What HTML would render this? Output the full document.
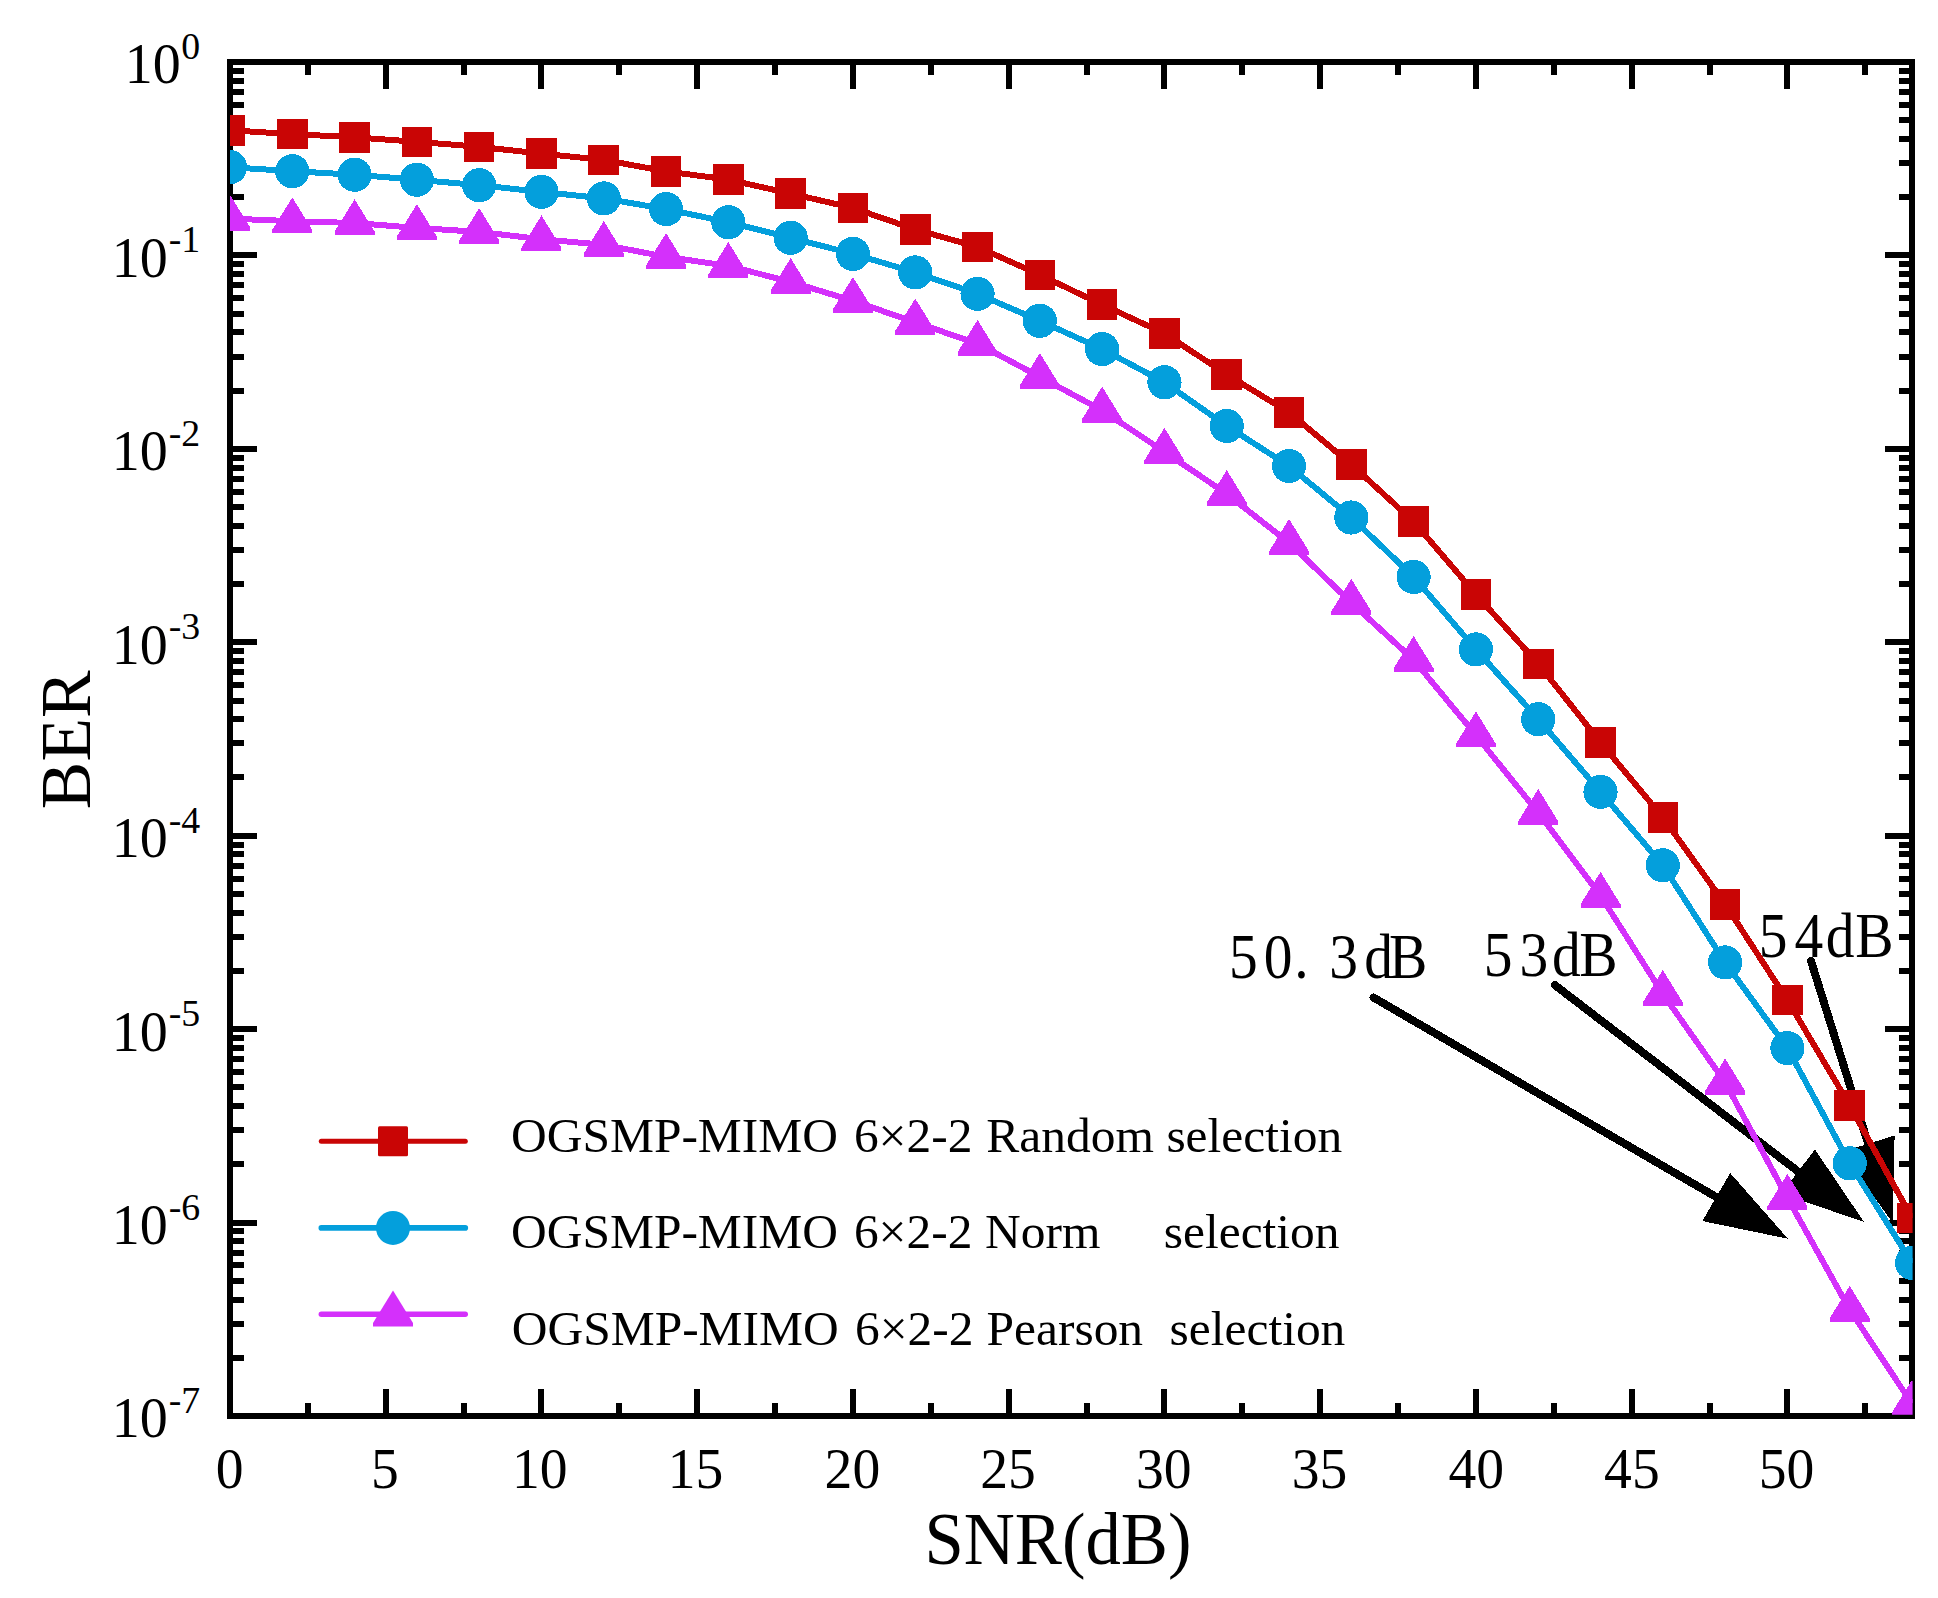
<!DOCTYPE html>
<html lang="en"><head><meta charset="utf-8"><title>BER versus SNR</title>
<style>html,body{margin:0;padding:0;background:#fff}svg{display:block}text{font-family:'Liberation Serif', serif;fill:#000}</style></head><body>
<svg width="1938" height="1598" viewBox="0 0 1938 1598">
<rect x="0" y="0" width="1938" height="1598" fill="#ffffff"/>
<defs><clipPath id="plot"><rect x="230" y="60" width="1682.6" height="1354.8"/></clipPath></defs>
<g id="axes" shape-rendering="crispEdges" stroke="#000" stroke-width="6" fill="none" stroke-linecap="butt">
<rect x="230" y="62" width="1682" height="1354"/>
<path d="M307.87 1416v-13M307.87 62v13M385.74 1416v-27M385.74 62v27M463.61 1416v-13M463.61 62v13M541.48 1416v-27M541.48 62v27M619.35 1416v-13M619.35 62v13M697.22 1416v-27M697.22 62v27M775.09 1416v-13M775.09 62v13M852.96 1416v-27M852.96 62v27M930.83 1416v-13M930.83 62v13M1008.7 1416v-27M1008.7 62v27M1086.57 1416v-13M1086.57 62v13M1164.44 1416v-27M1164.44 62v27M1242.31 1416v-13M1242.31 62v13M1320.19 1416v-27M1320.19 62v27M1398.06 1416v-13M1398.06 62v13M1475.93 1416v-27M1475.93 62v27M1553.8 1416v-13M1553.8 62v13M1631.67 1416v-27M1631.67 62v27M1709.54 1416v-13M1709.54 62v13M1787.41 1416v-27M1787.41 62v27M1865.28 1416v-13M1865.28 62v13M230 197.2h14M1912 197.2h-13M230 163.14h14M1912 163.14h-13M230 138.97h14M1912 138.97h-13M230 120.23h14M1912 120.23h-13M230 104.91h14M1912 104.91h-13M230 91.96h14M1912 91.96h-13M230 80.75h14M1912 80.75h-13M230 70.85h14M1912 70.85h-13M230 255.43h27M1912 255.43h-27M230 390.63h14M1912 390.63h-13M230 356.57h14M1912 356.57h-13M230 332.4h14M1912 332.4h-13M230 313.66h14M1912 313.66h-13M230 298.34h14M1912 298.34h-13M230 285.39h14M1912 285.39h-13M230 274.17h14M1912 274.17h-13M230 264.28h14M1912 264.28h-13M230 448.86h27M1912 448.86h-27M230 584.06h14M1912 584.06h-13M230 550h14M1912 550h-13M230 525.83h14M1912 525.83h-13M230 507.08h14M1912 507.08h-13M230 491.77h14M1912 491.77h-13M230 478.82h14M1912 478.82h-13M230 467.6h14M1912 467.6h-13M230 457.71h14M1912 457.71h-13M230 642.29h27M1912 642.29h-27M230 777.49h14M1912 777.49h-13M230 743.43h14M1912 743.43h-13M230 719.26h14M1912 719.26h-13M230 700.51h14M1912 700.51h-13M230 685.2h14M1912 685.2h-13M230 672.25h14M1912 672.25h-13M230 661.03h14M1912 661.03h-13M230 651.14h14M1912 651.14h-13M230 835.71h27M1912 835.71h-27M230 970.92h14M1912 970.92h-13M230 936.85h14M1912 936.85h-13M230 912.69h14M1912 912.69h-13M230 893.94h14M1912 893.94h-13M230 878.63h14M1912 878.63h-13M230 865.68h14M1912 865.68h-13M230 854.46h14M1912 854.46h-13M230 844.57h14M1912 844.57h-13M230 1029.14h27M1912 1029.14h-27M230 1164.34h14M1912 1164.34h-13M230 1130.28h14M1912 1130.28h-13M230 1106.12h14M1912 1106.12h-13M230 1087.37h14M1912 1087.37h-13M230 1072.05h14M1912 1072.05h-13M230 1059.11h14M1912 1059.11h-13M230 1047.89h14M1912 1047.89h-13M230 1037.99h14M1912 1037.99h-13M230 1222.57h27M1912 1222.57h-27M230 1357.77h14M1912 1357.77h-13M230 1323.71h14M1912 1323.71h-13M230 1299.54h14M1912 1299.54h-13M230 1280.8h14M1912 1280.8h-13M230 1265.48h14M1912 1265.48h-13M230 1252.53h14M1912 1252.53h-13M230 1241.32h14M1912 1241.32h-13M230 1231.42h14M1912 1231.42h-13"/>
</g>
<g id="ylabels">
<text transform="translate(0 83.4) scale(0.97 1)" font-size="57.8"><tspan x="128.62">10</tspan><tspan x="186.77" dy="-24.4" font-size="39">0</tspan></text>
<text transform="translate(0 276.83) scale(0.97 1)" font-size="57.8"><tspan x="115.27">10</tspan><tspan x="173.88" dy="-24.4" font-size="39">-1</tspan></text>
<text transform="translate(0 470.26) scale(0.97 1)" font-size="57.8"><tspan x="115.27">10</tspan><tspan x="173.88" dy="-24.4" font-size="39">-2</tspan></text>
<text transform="translate(0 663.69) scale(0.97 1)" font-size="57.8"><tspan x="115.27">10</tspan><tspan x="173.88" dy="-24.4" font-size="39">-3</tspan></text>
<text transform="translate(0 857.11) scale(0.97 1)" font-size="57.8"><tspan x="115.27">10</tspan><tspan x="173.88" dy="-24.4" font-size="39">-4</tspan></text>
<text transform="translate(0 1050.54) scale(0.97 1)" font-size="57.8"><tspan x="115.27">10</tspan><tspan x="173.88" dy="-24.4" font-size="39">-5</tspan></text>
<text transform="translate(0 1243.97) scale(0.97 1)" font-size="57.8"><tspan x="115.27">10</tspan><tspan x="173.88" dy="-24.4" font-size="39">-6</tspan></text>
<text transform="translate(0 1437.4) scale(0.97 1)" font-size="57.8"><tspan x="115.27">10</tspan><tspan x="173.88" dy="-24.4" font-size="39">-7</tspan></text>
</g>
<g id="xlabels">
<text transform="translate(215.8 1488.3) scale(0.9620 1)" font-size="57.8">0</text>
<text transform="translate(370.98 1488.3) scale(0.9620 1)" font-size="57.8">5</text>
<text transform="translate(511.99 1488.3) scale(0.9620 1)" font-size="57.8">10</text>
<text transform="translate(667.73 1488.3) scale(0.9620 1)" font-size="57.8">15</text>
<text transform="translate(824.58 1488.3) scale(0.9620 1)" font-size="57.8">20</text>
<text transform="translate(980.32 1488.3) scale(0.9620 1)" font-size="57.8">25</text>
<text transform="translate(1136.06 1488.3) scale(0.9620 1)" font-size="57.8">30</text>
<text transform="translate(1291.81 1488.3) scale(0.9620 1)" font-size="57.8">35</text>
<text transform="translate(1448.38 1488.3) scale(0.9620 1)" font-size="57.8">40</text>
<text transform="translate(1604.12 1488.3) scale(0.9620 1)" font-size="57.8">45</text>
<text transform="translate(1758.75 1488.3) scale(0.9620 1)" font-size="57.8">50</text>
</g>
<text transform="translate(924.46 1564.3) scale(0.9653 1)" font-size="73.2">SNR(dB)</text>
<g transform="translate(90 739) rotate(-90)"><text transform="translate(-70.13 0) scale(0.9899 1)" font-size="72">BER</text></g>
<g id="arrows" shape-rendering="crispEdges">
<line x1="1373.5" y1="997.5" x2="1718" y2="1198.05" stroke="#000" stroke-width="8" stroke-linecap="round"/>
<polygon points="1788,1238.8 1702.31,1221.02 1730.23,1173.06" fill="#000"/>
<line x1="1555" y1="985.2" x2="1799.71" y2="1172.73" stroke="#000" stroke-width="8" stroke-linecap="round"/>
<polygon points="1864,1222 1781.24,1193.54 1815,1149.49" fill="#000"/>
<line x1="1811" y1="961" x2="1868.73" y2="1145.69" stroke="#000" stroke-width="8" stroke-linecap="round"/>
<polygon points="1892.9,1223 1841.65,1152.06 1894.62,1135.5" fill="#000"/>
</g>
<g id="series" clip-path="url(#plot)" shape-rendering="crispEdges">
<polyline points="230,218.6 292.3,221.2 354.59,223 416.89,227.9 479.19,231.9 541.48,239.2 603.78,244.8 666.07,256.8 728.37,265.9 790.67,281.9 852.96,300.8 915.26,322.3 977.56,343.7 1039.85,376.8 1102.15,410.4 1164.44,451.7 1226.74,493.9 1289.04,542.8 1351.33,602.7 1413.63,659.8 1475.93,735.2 1538.22,812.7 1600.52,895.7 1662.81,993.8 1725.11,1082.3 1787.41,1197.8 1849.7,1309.7 1912,1403.8" fill="none" stroke="#d430fb" stroke-width="6" stroke-linejoin="round"/>
<path d="M230 194.8L250 227.2V230.8H210V227.2ZM292.3 197.4L312.3 229.8V233.4H272.3V229.8ZM354.59 199.2L374.59 231.6V235.2H334.59V231.6ZM416.89 204.1L436.89 236.5V240.1H396.89V236.5ZM479.19 208.1L499.19 240.5V244.1H459.19V240.5ZM541.48 215.4L561.48 247.8V251.4H521.48V247.8ZM603.78 221L623.78 253.4V257H583.78V253.4ZM666.07 233L686.07 265.4V269H646.07V265.4ZM728.37 242.1L748.37 274.5V278.1H708.37V274.5ZM790.67 258.1L810.67 290.5V294.1H770.67V290.5ZM852.96 277L872.96 309.4V313H832.96V309.4ZM915.26 298.5L935.26 330.9V334.5H895.26V330.9ZM977.56 319.9L997.56 352.3V355.9H957.56V352.3ZM1039.85 353L1059.85 385.4V389H1019.85V385.4ZM1102.15 386.6L1122.15 419V422.6H1082.15V419ZM1164.44 427.9L1184.44 460.3V463.9H1144.44V460.3ZM1226.74 470.1L1246.74 502.5V506.1H1206.74V502.5ZM1289.04 519L1309.04 551.4V555H1269.04V551.4ZM1351.33 578.9L1371.33 611.3V614.9H1331.33V611.3ZM1413.63 636L1433.63 668.4V672H1393.63V668.4ZM1475.93 711.4L1495.93 743.8V747.4H1455.93V743.8ZM1538.22 788.9L1558.22 821.3V824.9H1518.22V821.3ZM1600.52 871.9L1620.52 904.3V907.9H1580.52V904.3ZM1662.81 970L1682.81 1002.4V1006H1642.81V1002.4ZM1725.11 1058.5L1745.11 1090.9V1094.5H1705.11V1090.9ZM1787.41 1174L1807.41 1206.4V1210H1767.41V1206.4ZM1849.7 1285.9L1869.7 1318.3V1321.9H1829.7V1318.3ZM1912 1380L1932 1412.4V1416H1892V1412.4Z" fill="#d430fb"/>
<polyline points="230,167.2 292.3,171.2 354.59,174.7 416.89,179.7 479.19,185.2 541.48,191.9 603.78,198.4 666.07,209.1 728.37,222.2 790.67,237.8 852.96,253.9 915.26,272.4 977.56,293.9 1039.85,320.8 1102.15,349.1 1164.44,382.3 1226.74,426 1289.04,466 1351.33,517.5 1413.63,576.9 1475.93,649.4 1538.22,719.2 1600.52,791.9 1662.81,865.3 1725.11,962.4 1787.41,1048.1 1849.7,1163.3 1912,1262.9" fill="none" stroke="#049fdc" stroke-width="6" stroke-linejoin="round"/>
<g fill="#049fdc">
<circle cx="230" cy="167.2" r="17.1"/>
<circle cx="292.3" cy="171.2" r="17.1"/>
<circle cx="354.59" cy="174.7" r="17.1"/>
<circle cx="416.89" cy="179.7" r="17.1"/>
<circle cx="479.19" cy="185.2" r="17.1"/>
<circle cx="541.48" cy="191.9" r="17.1"/>
<circle cx="603.78" cy="198.4" r="17.1"/>
<circle cx="666.07" cy="209.1" r="17.1"/>
<circle cx="728.37" cy="222.2" r="17.1"/>
<circle cx="790.67" cy="237.8" r="17.1"/>
<circle cx="852.96" cy="253.9" r="17.1"/>
<circle cx="915.26" cy="272.4" r="17.1"/>
<circle cx="977.56" cy="293.9" r="17.1"/>
<circle cx="1039.85" cy="320.8" r="17.1"/>
<circle cx="1102.15" cy="349.1" r="17.1"/>
<circle cx="1164.44" cy="382.3" r="17.1"/>
<circle cx="1226.74" cy="426" r="17.1"/>
<circle cx="1289.04" cy="466" r="17.1"/>
<circle cx="1351.33" cy="517.5" r="17.1"/>
<circle cx="1413.63" cy="576.9" r="17.1"/>
<circle cx="1475.93" cy="649.4" r="17.1"/>
<circle cx="1538.22" cy="719.2" r="17.1"/>
<circle cx="1600.52" cy="791.9" r="17.1"/>
<circle cx="1662.81" cy="865.3" r="17.1"/>
<circle cx="1725.11" cy="962.4" r="17.1"/>
<circle cx="1787.41" cy="1048.1" r="17.1"/>
<circle cx="1849.7" cy="1163.3" r="17.1"/>
<circle cx="1912" cy="1262.9" r="17.1"/>
</g>
<polyline points="230,130.3 292.3,134.1 354.59,137.3 416.89,141.8 479.19,146.8 541.48,153.7 603.78,159.9 666.07,171.4 728.37,179.6 790.67,193.6 852.96,207.9 915.26,229.5 977.56,246.9 1039.85,274.9 1102.15,304.6 1164.44,333.5 1226.74,374.4 1289.04,412.4 1351.33,464.5 1413.63,521.6 1475.93,594.4 1538.22,663.8 1600.52,742.4 1662.81,817.4 1725.11,904.2 1787.41,1000.1 1849.7,1105.2 1912,1218.1" fill="none" stroke="#c90505" stroke-width="6" stroke-linejoin="round"/>
<path d="M214.7 115h30.6v30.6h-30.6zM277 118.8h30.6v30.6h-30.6zM339.29 122h30.6v30.6h-30.6zM401.59 126.5h30.6v30.6h-30.6zM463.89 131.5h30.6v30.6h-30.6zM526.18 138.4h30.6v30.6h-30.6zM588.48 144.6h30.6v30.6h-30.6zM650.77 156.1h30.6v30.6h-30.6zM713.07 164.3h30.6v30.6h-30.6zM775.37 178.3h30.6v30.6h-30.6zM837.66 192.6h30.6v30.6h-30.6zM899.96 214.2h30.6v30.6h-30.6zM962.26 231.6h30.6v30.6h-30.6zM1024.55 259.6h30.6v30.6h-30.6zM1086.85 289.3h30.6v30.6h-30.6zM1149.14 318.2h30.6v30.6h-30.6zM1211.44 359.1h30.6v30.6h-30.6zM1273.74 397.1h30.6v30.6h-30.6zM1336.03 449.2h30.6v30.6h-30.6zM1398.33 506.3h30.6v30.6h-30.6zM1460.63 579.1h30.6v30.6h-30.6zM1522.92 648.5h30.6v30.6h-30.6zM1585.22 727.1h30.6v30.6h-30.6zM1647.51 802.1h30.6v30.6h-30.6zM1709.81 888.9h30.6v30.6h-30.6zM1772.11 984.8h30.6v30.6h-30.6zM1834.4 1089.9h30.6v30.6h-30.6zM1896.7 1202.8h30.6v30.6h-30.6z" fill="#c90505"/>
</g>
<g id="legend">
<line x1="321.3" y1="1141.3" x2="465.3" y2="1141.3" stroke="#c90505" stroke-width="5" stroke-linecap="round"/>
<rect x="378" y="1126.3" width="30" height="30" rx="1.5" fill="#c90505"/>
<line x1="321.3" y1="1227.9" x2="465.3" y2="1227.9" stroke="#049fdc" stroke-width="5.6" stroke-linecap="round"/>
<circle cx="393" cy="1227.9" r="17" fill="#049fdc"/>
<line x1="321.3" y1="1314.3" x2="465.3" y2="1314.3" stroke="#d430fb" stroke-width="5.4" stroke-linecap="round"/>
<path d="M393 1290.5L413 1322.9V1326.5H373V1322.9Z" fill="#d430fb"/>
<g id="legendtext">
<text transform="translate(0 1152.2) scale(1.020 1)" font-size="48.5"><tspan x="500.98">OGSMP-MIMO</tspan> <tspan x="837.16">6×2-2</tspan> <tspan x="966.99">Random</tspan> <tspan x="1143.52">selection</tspan></text>
<text transform="translate(0 1247.6) scale(1.020 1)" font-size="48.5"><tspan x="500.98">OGSMP-MIMO</tspan> <tspan x="837.16">6×2-2</tspan> <tspan x="965.68">Norm</tspan> <tspan x="1140.98">selection</tspan></text>
<text transform="translate(0 1345.2) scale(1.020 1)" font-size="48.5"><tspan x="501.72">OGSMP-MIMO</tspan> <tspan x="838.19">6×2-2</tspan> <tspan x="967.2">Pearson</tspan> <tspan x="1146.66">selection</tspan></text>
</g></g>
<g id="notes">
<text transform="translate(0 978) scale(0.920 1)" font-size="62.5" x="1335.98 1373.61 1406.7 1444.88 1482.77 1509.89">50.3dB</text>
<text transform="translate(0 976) scale(0.920 1)" font-size="62.5" x="1612.72 1651.51 1687.01 1716.58">53dB</text>
<text transform="translate(0 957) scale(0.920 1)" font-size="62.5" x="1911.63 1950.68 1984.4 2016.68">54dB</text>
</g>
</svg></body></html>
